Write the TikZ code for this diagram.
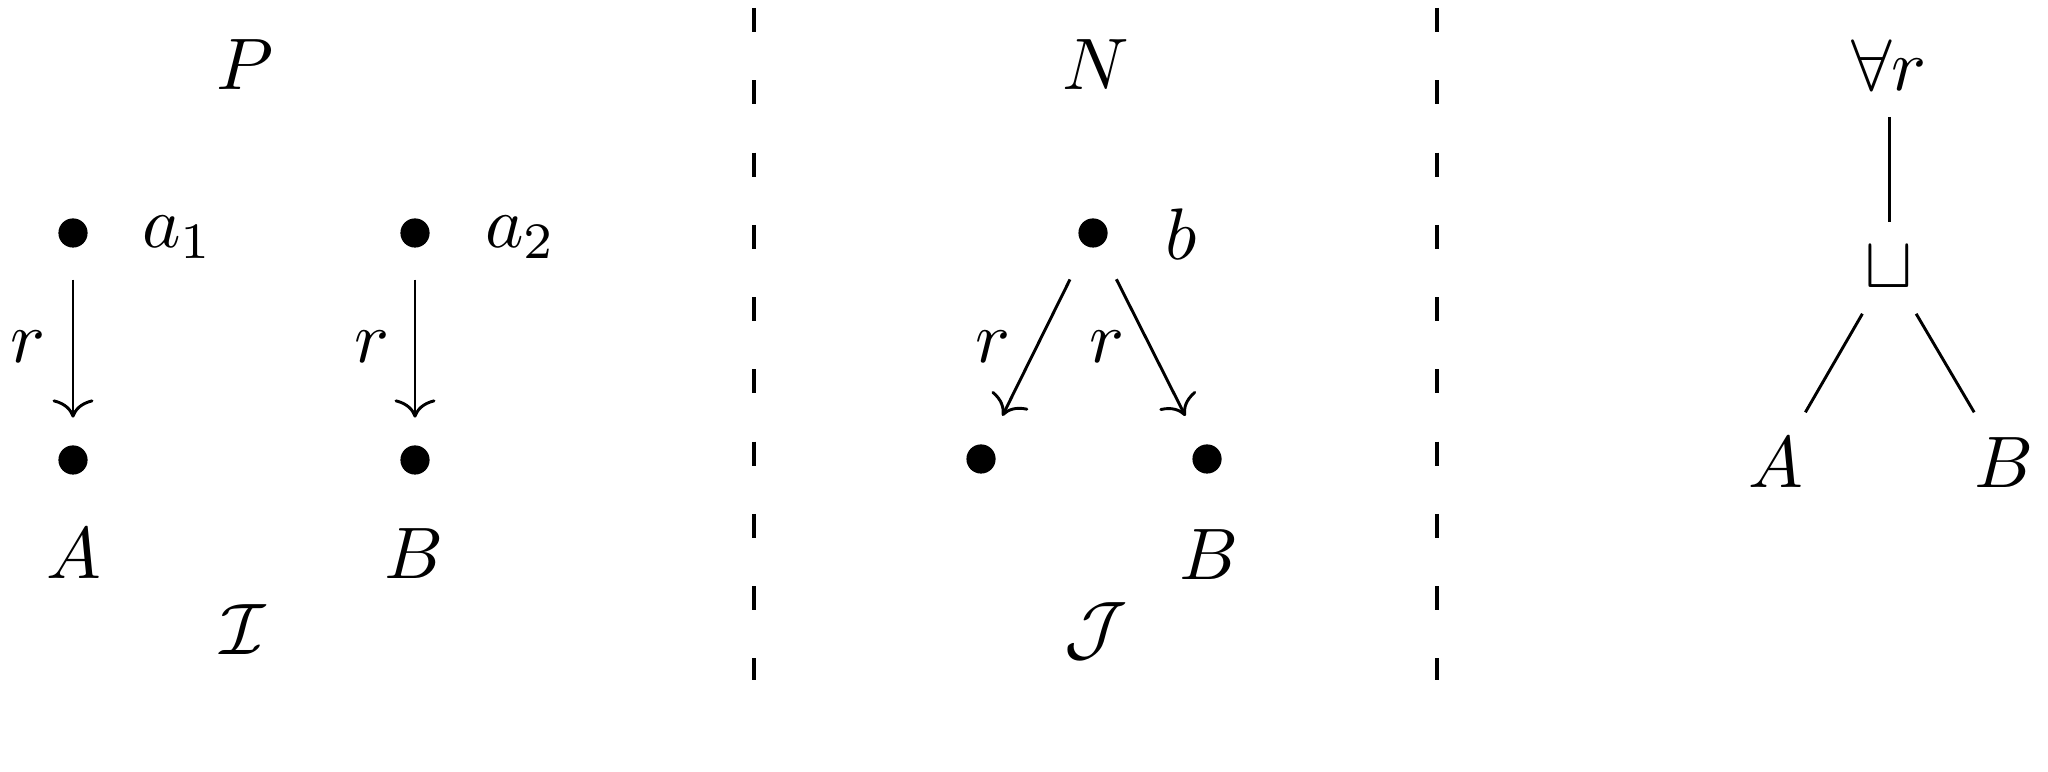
\documentclass[tikz,border=0pt]{standalone}
\usetikzlibrary{arrows.meta}
\begin{document}
\begin{tikzpicture}[x=0.137pt,y=-0.137pt,
  dot/.style={circle,fill=black,inner sep=0pt,minimum size=4pt},
  lbl/.style={anchor=base,inner sep=0pt},
  arr/.style={-{Computer Modern Rightarrow[length=2.5pt,width=5.6pt]},line width=0.4pt},
  vshort/.style={shorten <=4.2pt,shorten >=3.6pt},
  dshort/.style={shorten <=4.9pt,shorten >=4.4pt},
  sepline/.style={line width=0.45pt,dash pattern=on 3.3pt off 6.6pt},
  tnode/.style={anchor=base},
  tedge/.style={line width=0.4pt}]
\useasboundingbox (0,0) rectangle (2048,772);

% ---------- left panel ----------
\node[lbl] (P) at (245,90) {$P$};
\node[dot] (d1) at (73,233) {};
\node[dot] (d1b) at (73,460) {};
\node[dot] (d2) at (415,233) {};
\node[dot] (d2b) at (415,460) {};
\node[lbl] (a1) at (178,248) {$a_1$};
\node[lbl] (a2) at (521,248) {$a_2$};
\node[lbl] (r1) at (28,363) {$r$};
\node[lbl] (r2) at (372,363) {$r$};
\node[lbl] (A1) at (74,579) {$A$};
\node[lbl] (B1) at (414,579) {$B$};
\node[lbl] (I) at (243,655) {$\mathcal{I}$};
\draw[arr,vshort] (d1) -- (d1b);
\draw[arr,vshort] (d2) -- (d2b);

% ---------- separators ----------
\coordinate (s1t) at (754,8);
\coordinate (s1b) at (754,680);
\coordinate (s2t) at (1437,8);
\coordinate (s2b) at (1437,680);
\draw[sepline] (s1t) -- (s1b);
\draw[sepline] (s2t) -- (s2b);

% ---------- middle panel ----------
\node[lbl] (N) at (1096,90) {$N$};
\node[dot] (b) at (1093,233) {};
\node[dot] (bl) at (981,459) {};
\node[dot] (br) at (1207,459) {};
\node[lbl] (blab) at (1181,260) {$b$};
\node[lbl] (r3) at (993,363) {$r$};
\node[lbl] (r4) at (1107,363) {$r$};
\node[lbl] (B2) at (1209,580) {$B$};
\node[lbl] (J) at (1096,653) {$\mathcal{J}$};
\draw[arr,dshort] (b) -- (bl);
\draw[arr,dshort] (b) -- (br);

% ---------- right panel (tree) ----------
\node[tnode] (fa) at (1889,91) {$\forall r$};
\node[tnode] (cup) at (1889,288) {$\sqcup$};
\node[tnode] (tA) at (1776,488) {$A$};
\node[tnode] (tB) at (2004,488) {$B$};
\draw[tedge] (fa) -- (cup);
\draw[tedge] (cup) -- (tA);
\draw[tedge] (cup) -- (tB);
\end{tikzpicture}
\end{document}
